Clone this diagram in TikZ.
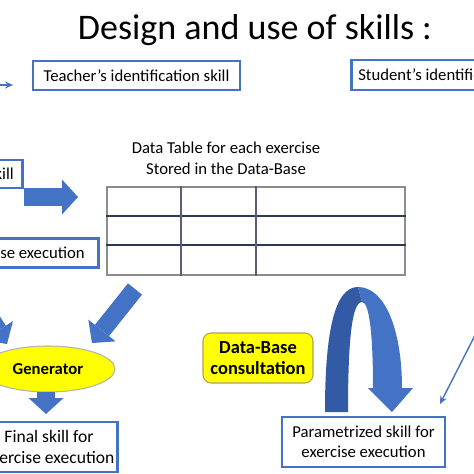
\documentclass[tikz,border=0pt]{standalone}
\usepackage{fontspec}
\setmainfont{Carlito}
\usepackage{tikz}
\usetikzlibrary{shapes, positioning}
\usetikzlibrary{arrows.meta}
\definecolor{skillblue}{RGB}{68,114,196}
\definecolor{skilldark}{RGB}{50,90,165}
\definecolor{genyellow}{RGB}{255,255,0}
\definecolor{tablegray}{RGB}{140,140,140}
\definecolor{tablenavy}{RGB}{44,56,90}
\definecolor{yellowedge}{RGB}{175,160,90}

\begin{document}
\begin{tikzpicture}[x=0.02cm, y=-0.02cm]
			\tikzset{
				skillbox/.style={draw=skillblue, line width=1.5pt, fill=white, inner sep=2pt, font=\fontsize{9.5}{11.5}\selectfont},
				yellowbox/.style={draw=yellowedge, line width=0.6pt, fill=genyellow, font=\bfseries\fontsize{9.5}{11.5}\selectfont},
				blockarrow/.style={draw=skillblue, line width=0.36cm, -{Triangle[length=0.32cm, width=0.7cm, line width=0pt]}},
				thinarrow/.style={draw=skillblue, line width=0.8pt, -{Stealth[length=4.5pt, width=4pt]}}
			}
			\useasboundingbox (0,0) rectangle (474,474);
			\clip (0,0) rectangle (474,474);
			% title
			\node[font=\fontsize{20.5}{24}\selectfont] (title) at (255,30) {Design and use of skills :};
			% identification skills
			\node[skillbox, minimum width=4.14cm, minimum height=0.58cm] (teacher) at (136.5,75.5) {Teacher's identification skill};
			\node[skillbox, anchor=west, inner xsep=0.14cm, minimum height=0.6cm] (student) at (350,75) {Student's identification skill};
			\node[skillbox, anchor=east, inner xsep=0.18cm, minimum height=0.56cm] (skillleft) at (24,174) {skill};
			\node[skillbox, anchor=east, inner xsep=0.28cm, minimum height=0.58cm] (execleft) at (100,253) {exercise execution};
			\coordinate (teachin) at (-5,85);
			\coordinate (teachout) at (13,85);
			\draw[thinarrow] (teachin) -- (teachout);
			% data table
			\node[font=\fontsize{9.5}{12}\selectfont, align=center] (caption) at (226,158) {Data Table for each exercise\\Stored in the Data-Base};
			\node[draw=tablegray, line width=0.8pt, minimum width=5.96cm, minimum height=1.76cm, inner sep=0pt] (dbtable) at (256,231) {};
			\foreach \y in {216,245}
				\draw[tablenavy, line width=0.8pt] (dbtable.west |- 0,\y) -- (dbtable.east |- 0,\y);
			\foreach \x in {181,256}
				\draw[tablenavy!80, line width=0.7pt] (\x,0 |- dbtable.north) -- (\x,0 |- dbtable.south);
			\coordinate (tablefrom) at (24,197);
			\coordinate (tableto) at (78,197);
			\draw[blockarrow] (tablefrom) -- (tableto);
			% generator
			\node[yellowbox, draw=gray!60, ellipse, minimum width=2.68cm, minimum height=0.92cm] (generator) at (48,369) {Generator};
			\node[skillbox, align=center, minimum width=2.64cm, minimum height=1cm, font=\fontsize{10}{11.8}\selectfont] (finalskill) at (49,447) {Final skill for\\exercise execution};
			\coordinate (genleftfrom) at (-28,290);
			\coordinate (genleftto) at (7,344);
			\coordinate (genrightfrom) at (135,289);
			\coordinate (genrightto) at (92,343);
			\coordinate (genoutfrom) at (46,392);
			\coordinate (genoutto) at (46,414);
			\draw[blockarrow] (genleftfrom) -- (genleftto);
			\draw[blockarrow] (genrightfrom) -- (genrightto);
			\draw[blockarrow] (genoutfrom) -- (genoutto);
			% data-base consultation
			\node[yellowbox, rounded corners=0.16cm, align=center, minimum width=2.2cm, minimum height=1cm, font=\bfseries\fontsize{10.5}{11.5}\selectfont] (dbconsult) at (258,358) {Data-Base\\consultation};
			\node[skillbox, align=center, minimum width=3.26cm, minimum height=1cm] (paramskill) at (363.5,442) {Parametrized skill for\\exercise execution};
			\fill[skillblue] (358,287) .. controls (385,287) and (402,330) .. (402,388) -- (413,388) -- (392,412) -- (368,388) -- (373,388) .. controls (373,340) and (370,302) .. (362,302) -- cycle;
			\fill[skilldark] (325,412) .. controls (325,330) and (335,287) .. (358,287) -- (362,302) .. controls (352,302) and (348,340) .. (348,412) -- cycle;
			\coordinate (paramin) at (495,296);
			\coordinate (paramto) at (440,404);
			\draw[thinarrow] (paramin) -- (paramto);
		\end{tikzpicture}
\end{document}
